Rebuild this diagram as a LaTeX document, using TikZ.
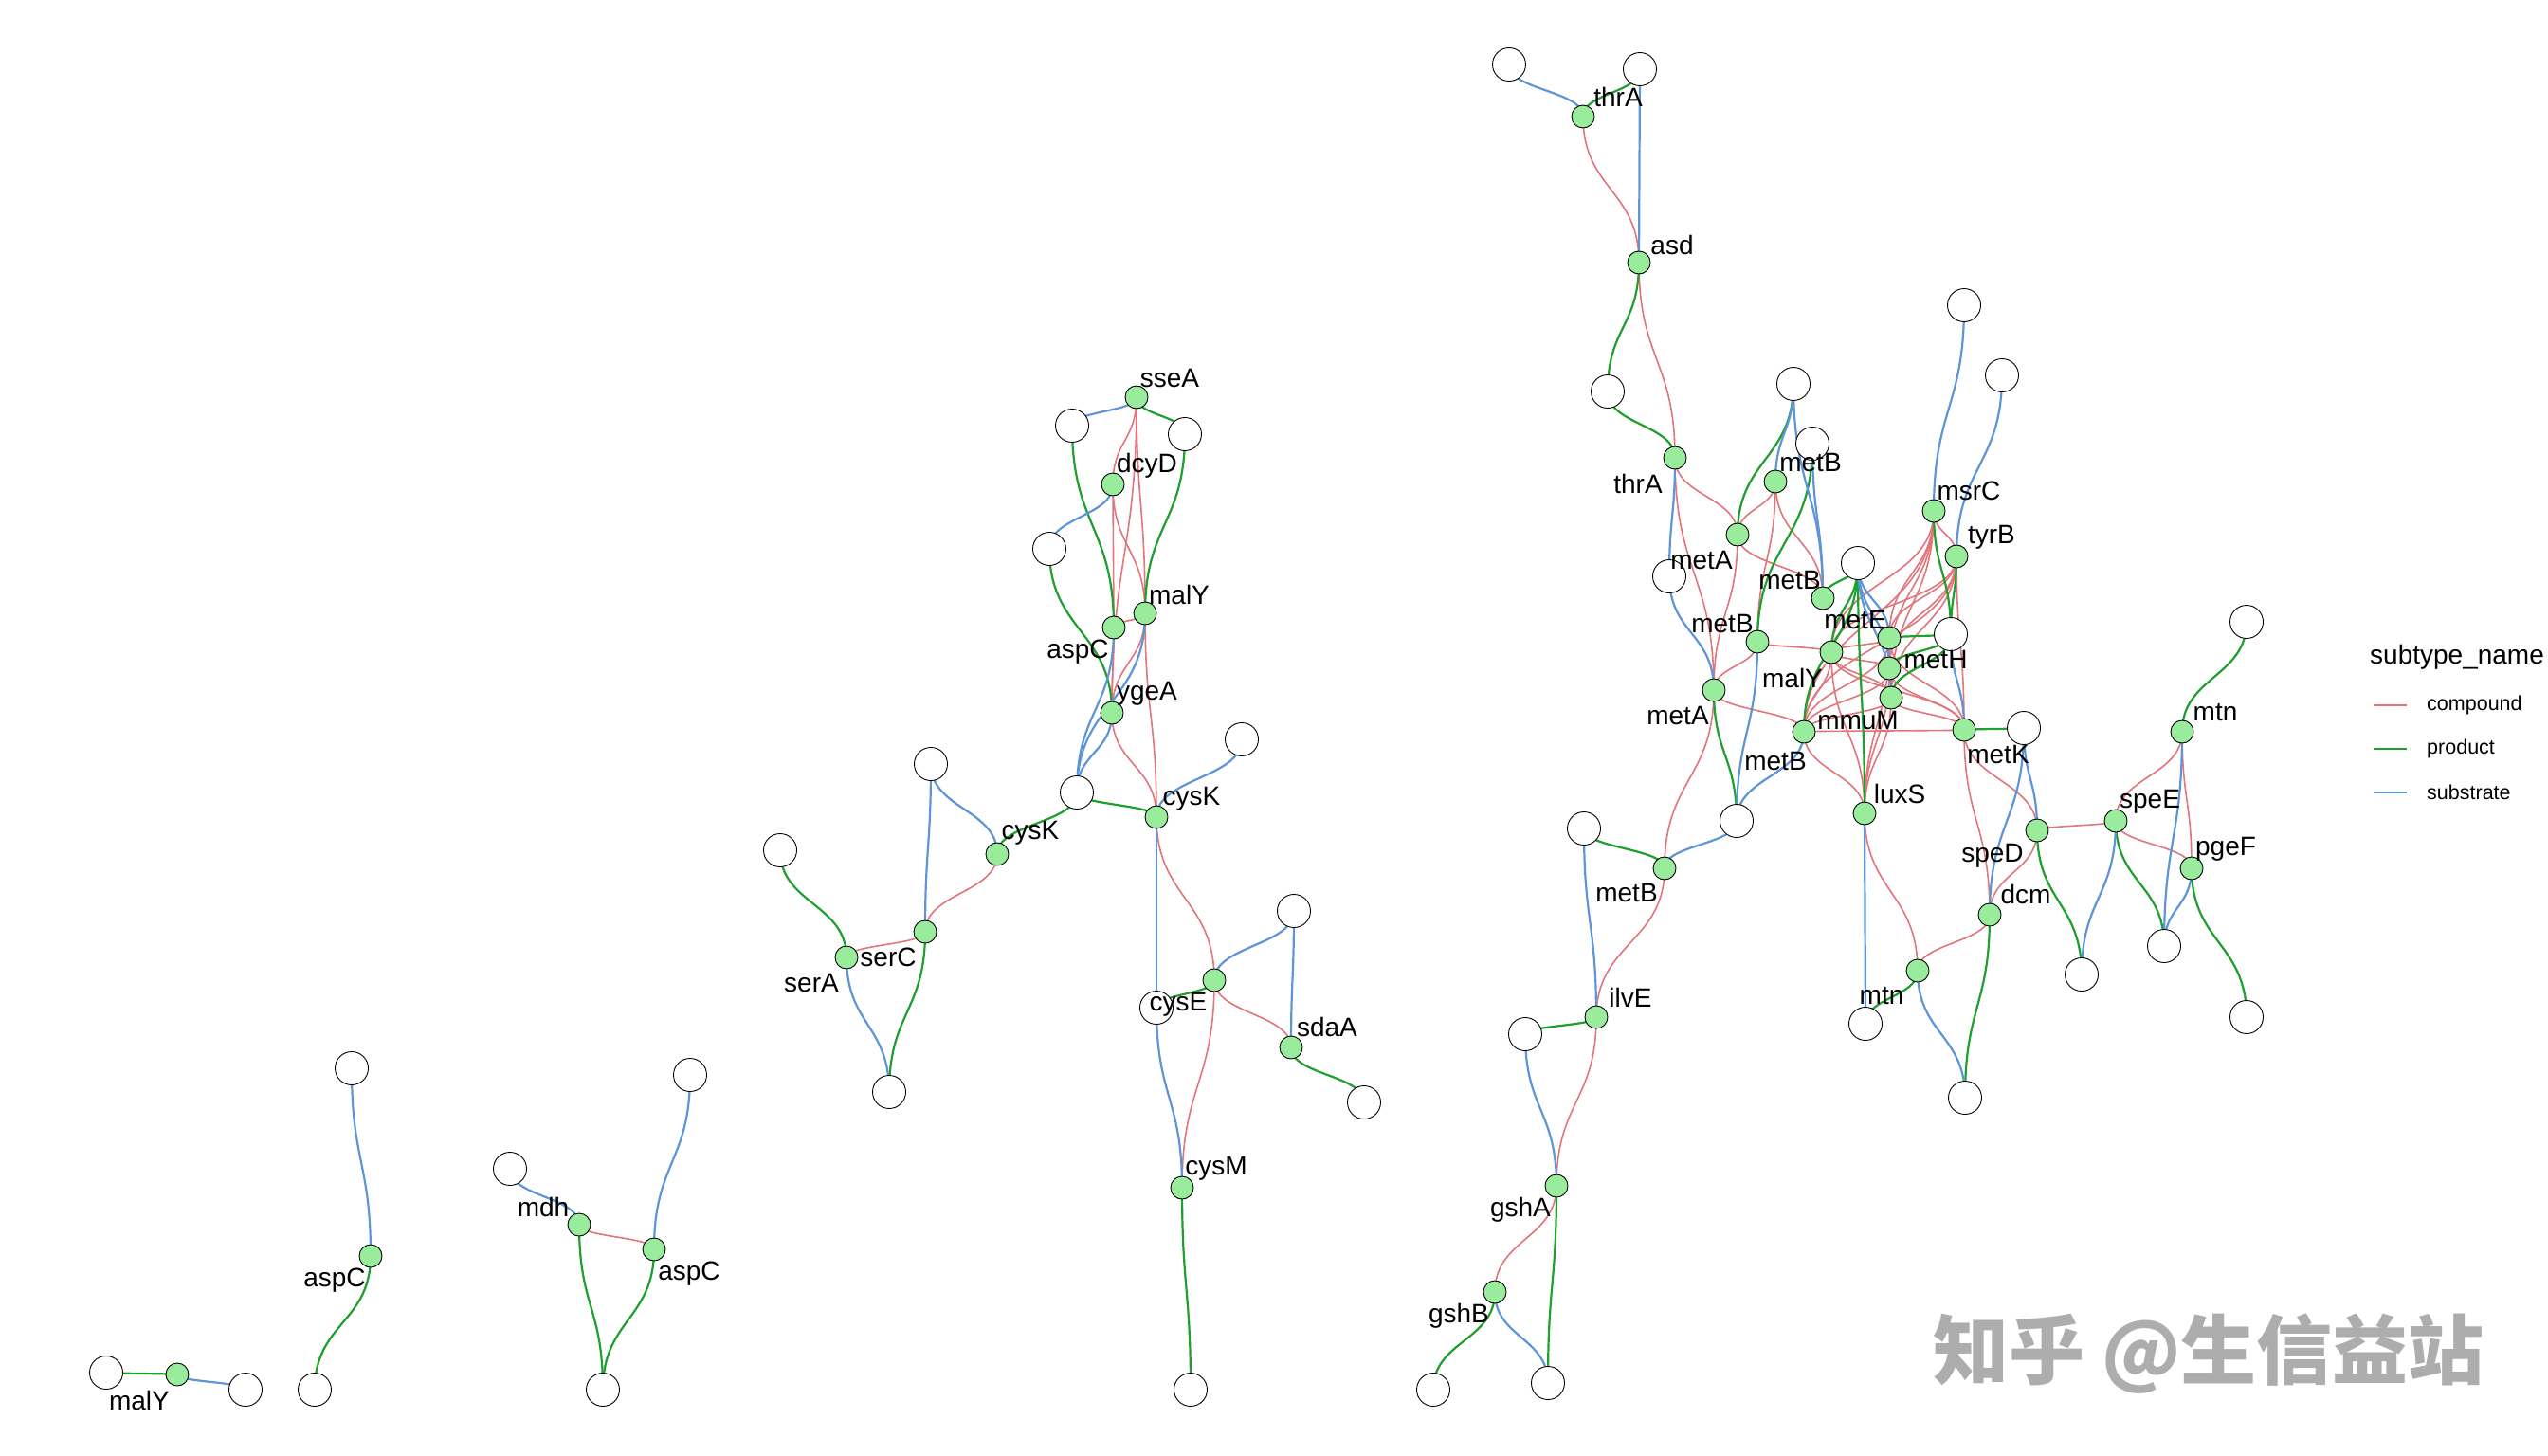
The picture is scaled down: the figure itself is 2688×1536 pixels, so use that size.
\documentclass[tikz,border=0pt]{standalone}
\usepackage{fontspec}
\setmainfont{Liberation Sans}
\newfontfamily\cjkfont{Noto Sans CJK SC}
\usetikzlibrary{calc,backgrounds}

\definecolor{cpdred}{HTML}{E2757C}
\definecolor{prdgreen}{HTML}{1F9F2E}
\definecolor{subblue}{HTML}{5D95D8}
\definecolor{genegreen}{HTML}{98EC9C}

\begin{document}
\begin{tikzpicture}[x=1pt,y=-1pt,
    cpd/.style={circle,draw,line width=0.9pt,fill=white,minimum size=35pt,inner sep=0pt},
    gene/.style={circle,draw,line width=0.9pt,fill=genegreen,minimum size=24pt,inner sep=0pt},
    glabel/.style={font=\fontsize{28}{30}\selectfont,inner sep=0pt},
    diag/.style={to path={.. controls ($(\tikztostart)!0.5!(\tikztostart |- \tikztotarget)$) and ($(\tikztotarget)!0.5!(\tikztotarget |- \tikztostart)$) .. (\tikztotarget)}},
    compound/.style={diag,color=cpdred,line width=1.6pt},
    product/.style={diag,color=prdgreen,line width=2.2pt},
    substrate/.style={diag,color=subblue,line width=2.2pt}]

  \useasboundingbox (0,0) rectangle (2688,1536);

  % small pieces
  \node[cpd] (c1) at (112,1448) {};
  \node[gene] (malYa) at (187,1450) {};
  \node[cpd] (c2) at (259,1466) {};
  \node[cpd] (c3) at (371,1127) {};
  \node[gene] (aspCa) at (391,1325) {};
  \node[cpd] (c4) at (332,1466) {};
  \node[cpd] (c5) at (538,1233) {};
  \node[gene] (mdh) at (611,1292) {};
  \node[gene] (aspCb) at (690,1318) {};
  \node[cpd] (c6) at (728,1134) {};
  \node[cpd] (c7) at (636,1466) {};

  % cysteine part
  \node[gene] (sseA) at (1199,419) {};
  \node[cpd] (c8) at (1131,449) {};
  \node[cpd] (c9) at (1250,458) {};
  \node[gene] (dcyD) at (1174,511) {};
  \node[cpd] (c10) at (1107,579) {};
  \node[gene] (malYb) at (1208,647) {};
  \node[gene] (aspCc) at (1175,662) {};
  \node[gene] (ygeA) at (1173,752) {};
  \node[cpd] (c11) at (1136,836) {};
  \node[cpd] (c12) at (1310,780) {};
  \node[gene] (cysKa) at (1220,862) {};
  \node[cpd] (c13) at (982,806) {};
  \node[gene] (cysKb) at (1052,901) {};
  \node[cpd] (c14) at (823,897) {};
  \node[gene] (serA) at (893,1010) {};
  \node[gene] (serC) at (976,983) {};
  \node[cpd] (c15) at (938,1152) {};
  \node[cpd] (c16) at (1220,1063) {};
  \node[gene] (cysE) at (1281,1034) {};
  \node[cpd] (c17) at (1365,961) {};
  \node[gene] (sdaA) at (1362,1105) {};
  \node[cpd] (c18) at (1439,1163) {};
  \node[gene] (cysM) at (1247,1253) {};
  \node[cpd] (c19) at (1256,1466) {};

  % methionine part
  \node[cpd] (c20) at (1592,68) {};
  \node[cpd] (c21) at (1730,73) {};
  \node[gene] (thrAa) at (1670,123) {};
  \node[gene] (asd) at (1729,277) {};
  \node[cpd] (c22) at (1696,413) {};
  \node[gene] (thrAb) at (1767,483) {};
  \node[cpd] (c23) at (1892,405) {};
  \node[cpd] (c24) at (1912,468) {};
  \node[gene] (metBa) at (1873,508) {};
  \node[gene] (metAa) at (1833,564) {};
  \node[cpd] (c25) at (1761,608) {};
  \node[gene] (metBb) at (1923,631) {};
  \node[cpd] (c26) at (1960,594) {};
  \node[gene] (metBc) at (1854,677) {};
  \node[gene] (malYc) at (1932,688) {};
  \node[gene] (metE) at (1993,673) {};
  \node[cpd] (c27) at (2058,669) {};
  \node[gene] (metH) at (1993,705) {};
  \node[gene] (mmuM) at (1995,736) {};
  \node[gene] (metAb) at (1808,728) {};
  \node[gene] (metBd) at (1903,772) {};
  \node[cpd] (c28) at (2072,322) {};
  \node[cpd] (c29) at (2112,396) {};
  \node[gene] (msrC) at (2040,539) {};
  \node[gene] (tyrB) at (2064,587) {};
  \node[gene] (metK) at (2072,770) {};
  \node[cpd] (c30) at (2135,768) {};
  \node[gene] (luxS) at (1967,858) {};
  \node[cpd] (c31) at (1832,866) {};
  \node[cpd] (c32) at (1671,874) {};
  \node[gene] (metBe) at (1756,916) {};
  \node[gene] (ilvE) at (1684,1073) {};
  \node[cpd] (c33) at (1609,1091) {};
  \node[gene] (gshA) at (1642,1251) {};
  \node[gene] (gshB) at (1577,1363) {};
  \node[cpd] (c34) at (1512,1466) {};
  \node[cpd] (c35) at (1633,1459) {};
  \node[cpd] (c36) at (2370,656) {};
  \node[gene] (mtna) at (2302,772) {};
  \node[gene] (speE) at (2232,866) {};
  \node[gene] (speD) at (2149,876) {};
  \node[gene] (dcm) at (2099,965) {};
  \node[gene] (pgeF) at (2312,916) {};
  \node[cpd] (c37) at (2283,998) {};
  \node[cpd] (c38) at (2196,1028) {};
  \node[cpd] (c39) at (2370,1073) {};
  \node[gene] (mtnb) at (2023,1024) {};
  \node[cpd] (c40) at (1968,1080) {};
  \node[cpd] (c41) at (2073,1158) {};

  \begin{scope}[on background layer]
  \path[compound]
    (mdh.center) edge (aspCb.center)
    (sseA.center) edge (dcyD.center) (sseA.center) edge (malYb.center)
    (sseA.center) edge (ygeA.center) (dcyD.center) edge (aspCc.center)
    (dcyD.center) edge (malYb.center) (aspCc.center) edge (malYb.center)
    (aspCc.center) edge (ygeA.center) (malYb.center) edge (ygeA.center)
    (malYb.center) edge (cysKa.center) (ygeA.center) edge (cysKa.center)
    (serA.center) edge (serC.center) (serC.center) edge (cysKb.center)
    (cysKa.center) edge (cysE.center) (cysE.center) edge (sdaA.center)
    (cysE.center) edge (cysM.center)
    (thrAa.center) edge (asd.center) (asd.center) edge (thrAb.center)
    (thrAb.center) edge (metAa.center) (thrAb.center) edge (metAb.center)
    (metAa.center) edge (metBa.center) (metAa.center) edge (metBb.center)
    (metAa.center) edge (metAb.center) (metBa.center) edge (metBc.center)
    (metBa.center) edge (metBb.center) (metBc.center) edge (malYc.center)
    (metBc.center) edge (metAb.center) (metAb.center) edge (metBd.center)
    (metAb.center) edge (metBe.center) (msrC.center) edge (tyrB.center)
    (msrC.center) edge (metE.center) (msrC.center) edge (metH.center)
    (msrC.center) edge (malYc.center) (msrC.center) edge (mmuM.center)
    (msrC.center) edge (metBd.center) (tyrB.center) edge (metE.center)
    (tyrB.center) edge (metH.center) (tyrB.center) edge (malYc.center)
    (tyrB.center) edge (mmuM.center) (tyrB.center) edge (metBd.center)
    (tyrB.center) edge (metK.center) (metK.center) edge (malYc.center)
    (metK.center) edge (metE.center) (metK.center) edge (metH.center)
    (metK.center) edge (mmuM.center) (metK.center) edge (metBd.center)
    (luxS.center) edge (malYc.center) (luxS.center) edge (metE.center)
    (luxS.center) edge (metH.center) (luxS.center) edge (mmuM.center)
    (luxS.center) edge (metBd.center) (metBd.center) edge (malYc.center)
    (metBd.center) edge (metE.center) (metBd.center) edge (metH.center)
    (metBd.center) edge (mmuM.center) (malYc.center) edge (metE.center)
    (malYc.center) edge (metH.center) (malYc.center) edge (mmuM.center)
    (metBe.center) edge (ilvE.center) (ilvE.center) edge (gshA.center)
    (gshA.center) edge (gshB.center) (luxS.center) edge (mtnb.center)
    (dcm.center) edge (mtnb.center) (metK.center) edge (dcm.center)
    (speD.center) edge (dcm.center) (metK.center) edge (speD.center)
    (speD.center) edge (speE.center) (speE.center) edge (mtna.center)
    (speE.center) edge (pgeF.center) (mtna.center) edge (pgeF.center);

  \path[product]
    (c1.center) edge (malYa.center) (aspCa.center) edge (c4.center)
    (mdh.center) edge (c7.center) (aspCb.center) edge (c7.center)
    (sseA.center) edge (c9.center) (c8.center) edge (aspCc.center)
    (c9.center) edge (malYb.center) (c10.center) edge (ygeA.center)
    (c11.center) edge (cysKa.center) (c11.center) edge (cysKb.center)
    (c14.center) edge (serA.center) (serC.center) edge (c15.center)
    (cysE.center) edge (c16.center) (sdaA.center) edge (c18.center)
    (cysM.center) edge (c19.center)
    (thrAa.center) edge (c21.center) (asd.center) edge (c22.center)
    (c22.center) edge (thrAb.center) (metAa.center) edge (c23.center)
    (c24.center) edge (metBc.center) (metBb.center) edge (c26.center)
    (c26.center) edge (malYc.center) (c26.center) edge (metBd.center)
    (c26.center) edge (luxS.center) (metE.center) edge (c27.center)
    (metH.center) edge (c27.center) (mmuM.center) edge (c27.center)
    (msrC.center) edge (c27.center) (tyrB.center) edge (c27.center)
    (metK.center) edge (c30.center) (metAb.center) edge (c31.center)
    (c32.center) edge (metBe.center) (ilvE.center) edge (c33.center)
    (gshA.center) edge (c35.center) (gshB.center) edge (c34.center)
    (mtnb.center) edge (c40.center) (dcm.center) edge (c41.center)
    (speD.center) edge (c38.center) (speE.center) edge (c37.center)
    (pgeF.center) edge (c39.center) (mtna.center) edge (c36.center);

  \path[substrate]
    (malYa.center) edge (c2.center) (c3.center) edge (aspCa.center)
    (c5.center) edge (mdh.center) (c6.center) edge (aspCb.center)
    (c8.center) edge (sseA.center) (dcyD.center) edge (c10.center)
    (aspCc.center) edge (c11.center) (malYb.center) edge (c11.center)
    (ygeA.center) edge (c11.center) (c12.center) edge (cysKa.center)
    (c13.center) edge (serC.center) (c13.center) edge (cysKb.center)
    (serA.center) edge (c15.center) (cysKa.center) edge (c16.center)
    (cysE.center) edge (c17.center) (c17.center) edge (sdaA.center)
    (c16.center) edge (cysM.center)
    (c20.center) edge (thrAa.center) (c21.center) edge (asd.center)
    (thrAb.center) edge (c25.center) (c25.center) edge (metAb.center)
    (metBa.center) edge (c23.center) (c23.center) edge (metBb.center)
    (c24.center) edge (metBb.center) (metBc.center) edge (c31.center)
    (metBd.center) edge (c31.center) (c26.center) edge (metE.center)
    (c26.center) edge (metH.center) (c26.center) edge (mmuM.center)
    (c28.center) edge (msrC.center) (c29.center) edge (tyrB.center)
    (c27.center) edge (metK.center) (metBe.center) edge (c31.center)
    (c32.center) edge (ilvE.center) (c33.center) edge (gshA.center)
    (gshB.center) edge (c35.center) (luxS.center) edge (c40.center)
    (mtnb.center) edge (c41.center) (c30.center) edge (dcm.center)
    (c30.center) edge (speD.center) (speE.center) edge (c38.center)
    (mtna.center) edge (c37.center) (pgeF.center) edge (c37.center);
  \end{scope}

  \node[glabel] (malYa-t) at (147,1477) {malY};
  \node[glabel] (aspCa-t) at (353,1351) {aspC};
  \node[glabel] (mdh-t) at (573,1273) {mdh};
  \node[glabel] (aspCb-t) at (727,1344) {aspC};

  \node[glabel] (sseA-t) at (1234,399) {sseA};
  \node[glabel] (dcyD-t) at (1210,491) {dcyD};
  \node[glabel] (malYb-t) at (1244,627) {malY};
  \node[glabel] (aspCc-t) at (1137,688) {aspC};
  \node[glabel] (ygeA-t) at (1210,732) {ygeA};
  \node[glabel] (cysKa-t) at (1257,843) {cysK};
  \node[glabel] (cysKb-t) at (1087,879) {cysK};
  \node[glabel] (serA-t) at (856,1037) {serA};
  \node[glabel] (serC-t) at (937,1010) {serC};
  \node[glabel] (cysE-t) at (1243,1060) {cysE};
  \node[glabel] (sdaA-t) at (1400,1083) {sdaA};
  \node[glabel] (cysM-t) at (1283,1233) {cysM};

  \node[glabel] (thrAa-t) at (1707,102) {thrA};
  \node[glabel] (asd-t) at (1764,258) {asd};
  \node[glabel] (thrAb-t) at (1728,510) {thrA};
  \node[glabel] (metBa-t) at (1910,488) {metB};
  \node[glabel] (metAa-t) at (1795,591) {metA};
  \node[glabel] (metBb-t) at (1888,612) {metB};
  \node[glabel] (metBc-t) at (1817,658) {metB};
  \node[glabel] (malYc-t) at (1891,715) {malY};
  \node[glabel] (metE-t) at (1957,654) {metE};
  \node[glabel] (metH-t) at (2042,696) {metH};
  \node[glabel] (mmuM-t) at (1960,760) {mmuM};
  \node[glabel] (metAb-t) at (1770,755) {metA};
  \node[glabel] (metBd-t) at (1873,803) {metB};
  \node[glabel] (msrC-t) at (2077,518) {msrC};
  \node[glabel] (tyrB-t) at (2101,567) {tyrB};
  \node[glabel] (metK-t) at (2108,796) {metK};
  \node[glabel] (luxS-t) at (2004,837) {luxS};
  \node[glabel] (metBe-t) at (1716,942) {metB};
  \node[glabel] (ilvE-t) at (1720,1052) {ilvE};
  \node[glabel] (gshA-t) at (1604,1276) {gshA};
  \node[glabel] (gshB-t) at (1539,1388) {gshB};
  \node[glabel] (mtna-t) at (2337,752) {mtn};
  \node[glabel] (speE-t) at (2268,846) {speE};
  \node[glabel] (speD-t) at (2102,903) {speD};
  \node[glabel] (dcm-t) at (2137,943) {dcm};
  \node[glabel] (pgeF-t) at (2348,896) {pgeF};
  \node[glabel] (mtnb-t) at (1985,1051) {mtn};

  % legend
  \node[glabel,anchor=west] (legend) at (2500,693) {subtype\_name};
  \coordinate (kc1) at (2504,744);
  \coordinate (kc2) at (2539,744);
  \coordinate (kp1) at (2504,790);
  \coordinate (kp2) at (2539,790);
  \coordinate (ks1) at (2504,836);
  \coordinate (ks2) at (2539,836);
  \draw[compound] (kc1) -- (kc2);
  \draw[product] (kp1) -- (kp2);
  \draw[substrate] (ks1) -- (ks2);
  \node[anchor=west,inner sep=0pt,font=\fontsize{21.5}{23}\selectfont] (key-c) at (2560,744) {compound};
  \node[anchor=west,inner sep=0pt,font=\fontsize{21.5}{23}\selectfont] (key-p) at (2560,790) {product};
  \node[anchor=west,inner sep=0pt,font=\fontsize{21.5}{23}\selectfont] (key-s) at (2560,836) {substrate};

  \node[text=black!32,font=\cjkfont\bfseries\fontsize{80}{84}\selectfont,inner sep=0pt] (mark) at (2330,1428) {知乎 @生信益站};

\end{tikzpicture}
\end{document}
